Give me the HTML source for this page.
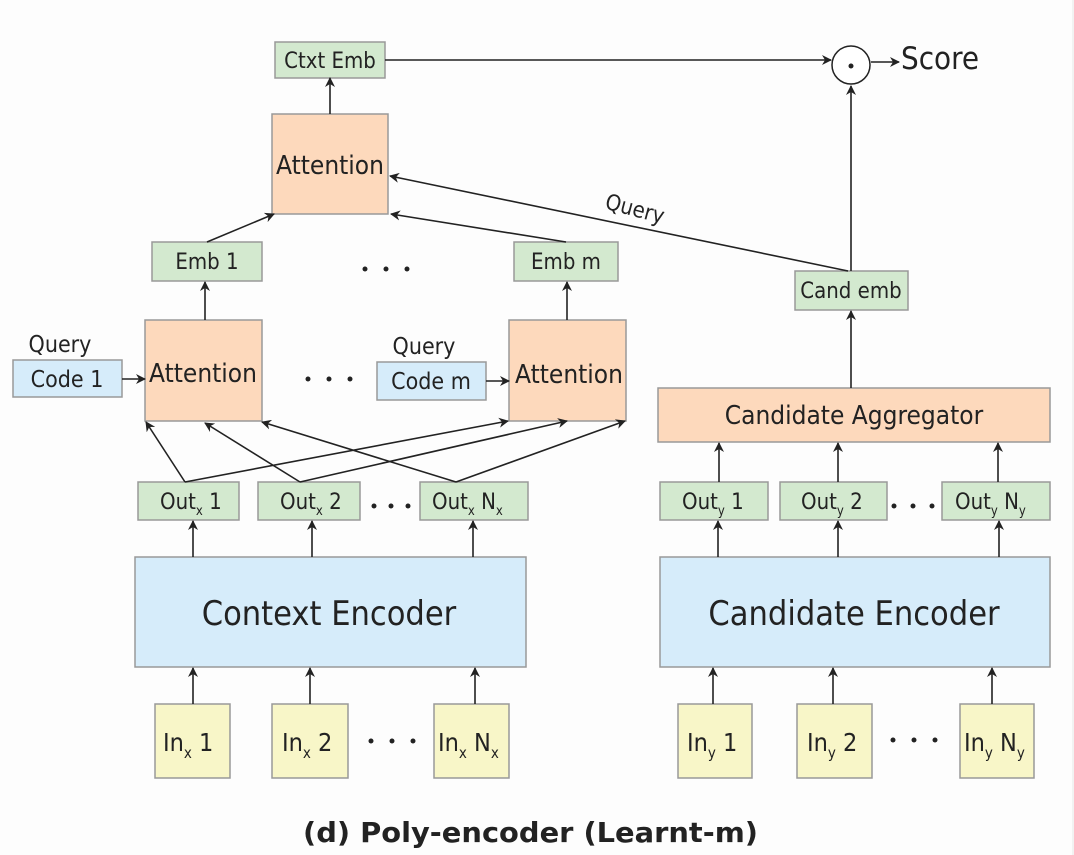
<!DOCTYPE html>
<html><head><meta charset="utf-8"><style>
html,body{margin:0;padding:0;background:#fff;}
svg{display:block;}
text{font-family:"DejaVu Sans Condensed","DejaVu Sans","Liberation Sans",sans-serif;fill:#222;}
</style></head><body>
<svg width="1074" height="855" viewBox="0 0 1074 855" xmlns="http://www.w3.org/2000/svg">
<defs>
<marker id="a" markerWidth="10" markerHeight="10" refX="9" refY="5" orient="auto" markerUnits="userSpaceOnUse">
<path d="M0,0 L10,5 L0,10 L3,5 z" fill="#222"/>
</marker>
</defs>
<rect x="0" y="0" width="1074" height="855" fill="#fdfdfd"/>
<g stroke="#999" stroke-width="1.5">
<g fill="#d3e9cf">
<rect x="275" y="42" width="110" height="36"/>
<rect x="152" y="242" width="110" height="39"/>
<rect x="514" y="242" width="104" height="39"/>
<rect x="795" y="271" width="113" height="39"/>
<rect x="138" y="482" width="101" height="38"/>
<rect x="258" y="482" width="102" height="38"/>
<rect x="420" y="482" width="108" height="38"/>
<rect x="660" y="482" width="108" height="38"/>
<rect x="780" y="482" width="107" height="38"/>
<rect x="942" y="482" width="108" height="38"/>
</g>
<g fill="#fdd9bc">
<rect x="272" y="114" width="116" height="100"/>
<rect x="145" y="320" width="117" height="101"/>
<rect x="509" y="320" width="117" height="101"/>
<rect x="658" y="388" width="392" height="54"/>
</g>
<g fill="#d6ecfa">
<rect x="13" y="360" width="109" height="37"/>
<rect x="377" y="362" width="109" height="38"/>
<rect x="135" y="557" width="391" height="110"/>
<rect x="660" y="557" width="390" height="110"/>
</g>
<g fill="#f8f6c8">
<rect x="155" y="704" width="75" height="74"/>
<rect x="272" y="704" width="76" height="74"/>
<rect x="434" y="704" width="75" height="74"/>
<rect x="678" y="704" width="74" height="74"/>
<rect x="797" y="704" width="75" height="74"/>
<rect x="960" y="704" width="74" height="74"/>
</g>
</g>
<circle cx="851" cy="65" r="19" fill="#fff" stroke="#222" stroke-width="1.5"/>
<circle cx="851" cy="66" r="2.5" fill="#222"/>
<g stroke="#222" stroke-width="1.6" fill="none" marker-end="url(#a)">
<line x1="385" y1="60" x2="831" y2="60"/>
<line x1="871" y1="62" x2="899" y2="62"/>
<line x1="851" y1="271" x2="851" y2="86"/>
<line x1="848" y1="271" x2="390" y2="176"/>
<line x1="330" y1="114" x2="330" y2="78"/>
<line x1="207" y1="242" x2="274" y2="214"/>
<line x1="566" y1="242" x2="391" y2="214"/>
<line x1="205" y1="320" x2="205" y2="282"/>
<line x1="567" y1="320" x2="567" y2="282"/>
<line x1="851" y1="388" x2="851" y2="311"/>
<line x1="122" y1="379" x2="145" y2="379"/>
<line x1="486" y1="381" x2="509" y2="381"/>
<line x1="185" y1="482" x2="146" y2="422"/>
<line x1="185" y1="482" x2="508" y2="421"/>
<line x1="300" y1="482" x2="205" y2="423"/>
<line x1="300" y1="482" x2="567" y2="421"/>
<line x1="456" y1="482" x2="262" y2="422"/>
<line x1="456" y1="482" x2="625" y2="421"/>
<line x1="193" y1="557" x2="193" y2="521"/>
<line x1="312" y1="557" x2="312" y2="521"/>
<line x1="473" y1="557" x2="473" y2="521"/>
<line x1="719" y1="482" x2="719" y2="443"/>
<line x1="838" y1="482" x2="838" y2="443"/>
<line x1="998" y1="482" x2="998" y2="443"/>
<line x1="718" y1="557" x2="718" y2="521"/>
<line x1="838" y1="557" x2="838" y2="521"/>
<line x1="999" y1="557" x2="999" y2="521"/>
<line x1="193" y1="704" x2="193" y2="668"/>
<line x1="310" y1="704" x2="310" y2="668"/>
<line x1="475" y1="704" x2="475" y2="668"/>
<line x1="713" y1="704" x2="713" y2="668"/>
<line x1="833" y1="704" x2="833" y2="668"/>
<line x1="992" y1="704" x2="992" y2="668"/>
</g>
<g font-size="22" text-anchor="middle">
<text x="330" y="68">Ctxt Emb</text>
<text x="330" y="174" font-size="26">Attention</text>
<text x="207" y="269">Emb 1</text>
<text x="566" y="269">Emb m</text>
<text x="851" y="298">Cand emb</text>
<text x="203" y="382" font-size="26">Attention</text>
<text x="569" y="383" font-size="26">Attention</text>
<text x="67" y="387" font-size="23">Code 1</text>
<text x="431" y="389" font-size="23">Code m</text>
<text x="60" y="352" font-size="23">Query</text>
<text x="424" y="354" font-size="23">Query</text>
<text x="854" y="424" font-size="26">Candidate Aggregator</text>
<text x="329" y="625" font-size="34">Context Encoder</text>
<text x="854" y="625" font-size="34">Candidate Encoder</text>
</g>
<text x="901" y="69" font-size="31">Score</text>
<text x="633" y="216" font-size="22" transform="rotate(15 633 216)" text-anchor="middle">Query</text>
<g font-size="22">
<text x="160" y="509">Out<tspan font-size="13" dy="6">x</tspan><tspan dy="-6"> 1</tspan></text>
<text x="280" y="509">Out<tspan font-size="13" dy="6">x</tspan><tspan dy="-6"> 2</tspan></text>
<text x="432" y="509">Out<tspan font-size="13" dy="6">x</tspan><tspan dy="-6"> N</tspan><tspan font-size="13" dy="6">x</tspan></text>
<text x="682" y="509">Out<tspan font-size="13" dy="6">y</tspan><tspan dy="-6"> 1</tspan></text>
<text x="801" y="509">Out<tspan font-size="13" dy="6">y</tspan><tspan dy="-6"> 2</tspan></text>
<text x="955" y="509">Out<tspan font-size="13" dy="6">y</tspan><tspan dy="-6"> N</tspan><tspan font-size="13" dy="6">y</tspan></text>
</g>
<g font-size="25">
<text x="163" y="751">In<tspan font-size="15" dy="7">x</tspan><tspan dy="-7"> 1</tspan></text>
<text x="282" y="751">In<tspan font-size="15" dy="7">x</tspan><tspan dy="-7"> 2</tspan></text>
<text x="438" y="751">In<tspan font-size="15" dy="7">x</tspan><tspan dy="-7"> N</tspan><tspan font-size="15" dy="7">x</tspan></text>
<text x="687" y="751">In<tspan font-size="15" dy="7">y</tspan><tspan dy="-7"> 1</tspan></text>
<text x="807" y="751">In<tspan font-size="15" dy="7">y</tspan><tspan dy="-7"> 2</tspan></text>
<text x="964" y="751">In<tspan font-size="15" dy="7">y</tspan><tspan dy="-7"> N</tspan><tspan font-size="15" dy="7">y</tspan></text>
</g>
<g fill="#222">
<circle cx="365" cy="269" r="2.5"/><circle cx="386" cy="269" r="2.5"/><circle cx="407" cy="269" r="2.5"/>
<circle cx="308" cy="379" r="2.5"/><circle cx="329" cy="379" r="2.5"/><circle cx="350" cy="379" r="2.5"/>
<circle cx="374" cy="506" r="2.5"/><circle cx="391" cy="506" r="2.5"/><circle cx="408" cy="506" r="2.5"/>
<circle cx="894" cy="506" r="2.5"/><circle cx="913" cy="506" r="2.5"/><circle cx="932" cy="506" r="2.5"/>
<circle cx="371" cy="741" r="2.5"/><circle cx="392" cy="741" r="2.5"/><circle cx="413" cy="741" r="2.5"/>
<circle cx="893" cy="740" r="2.5"/><circle cx="914" cy="740" r="2.5"/><circle cx="935" cy="740" r="2.5"/>
</g>
<text x="303" y="842" font-size="28" font-weight="bold" textLength="455" lengthAdjust="spacingAndGlyphs">(d) Poly-encoder (Learnt-m)</text>
<line x1="1073" y1="0" x2="1073" y2="855" stroke="#e8e8e8"/>
</svg>
</body></html>
